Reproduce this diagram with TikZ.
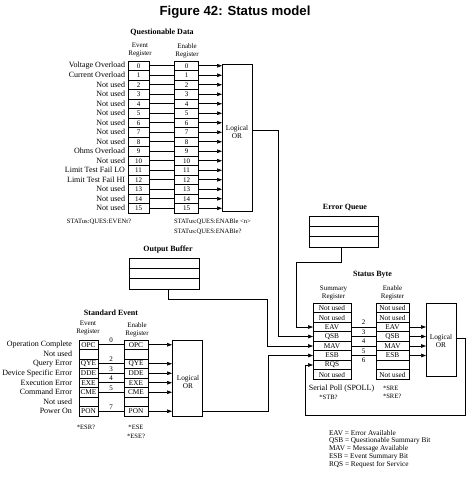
\documentclass[tikz,border=0pt]{standalone}
\usepackage{fontspec}
\setmainfont{Liberation Serif}
\newfontfamily\titlesans{Liberation Sans}
\usetikzlibrary{arrows.meta,calc}
\begin{document}
\begin{tikzpicture}[x=1pt,y=-1pt,
  every node/.style={inner sep=0pt,outer sep=0pt},
  cell/.style={draw,line width=0.7pt,minimum height=9.5pt,font=\fontsize{7.3}{8}\selectfont},
  qcell/.style={cell,font=\fontsize{7}{8}\selectfont},
  bufcell/.style={draw,line width=0.7pt,minimum height=10.33pt},
  orbox/.style={draw,line width=0.8pt},
  ortext/.style={align=center,font=\fontsize{7.3}{7.5}\selectfont},
  lbl/.style={anchor=east,font=\fontsize{8}{9}\selectfont},
  hdr/.style={font=\bfseries\fontsize{8}{9}\selectfont},
  sub/.style={align=center,font=\fontsize{7}{7.8}\selectfont},
  cmd/.style={font=\fontsize{6.6}{8}\selectfont},
  num/.style={font=\fontsize{7}{8}\selectfont},
  leg/.style={anchor=west,font=\fontsize{7.3}{8}\selectfont},
  conn/.style={line width=0.7pt},
  arr/.style={line width=0.7pt,-{Triangle[length=5pt,width=3.6pt]}}
]
\useasboundingbox (0,0) rectangle (474,479);
\fill[white] (0,0) rectangle (474,479);

% Title
\node[font=\titlesans\bfseries\fontsize{13.2}{15}\selectfont] (title) at (235,12) {Figure 42: Status model};

% ---------------- Questionable Data ----------------
\node[hdr] (qhdr) at (162,32) {Questionable Data};
\node[sub] (qevh) at (140,50) {Event\\Register};
\node[sub] (qenh) at (187,51) {Enable\\Register};
\foreach \i/\lab in {0/Voltage Overload,1/Current Overload,2/Not used,3/Not used,4/Not used,5/Not used,6/Not used,7/Not used,8/Not used,9/Ohms Overload,10/Not used,11/Limit Test Fail LO,12/Limit Test Fail HI,13/Not used,14/Not used,15/Not used}{
  \node[qcell,minimum width=21pt] (qe\i) at (138.5,{65.75+9.5*\i}) {\i};
  \node[qcell,minimum width=23.5pt] (qn\i) at (186.5,{65.75+9.5*\i}) {\i};
  \node[lbl] (ql\i) at ($(qe\i.west)+(-3,0)$) {\lab};
}
\node[orbox,minimum width=30pt,minimum height=147pt] (qor) at (237,137.5) {};
\node[ortext] (qort) at (237,132) {Logical\\OR};
\foreach \i in {0,...,15}{
  \draw[conn] (qe\i.east) -- (qn\i.west);
  \draw[arr] (qn\i.east) -- (qn\i.east -| qor.west);
}
\node[cmd] (qc1) at (99,222) {STATus:QUES:EVENt?};
\node[cmd,anchor=west] (qc2) at (174,222) {STATus:QUES:ENABle <n>};
\node[cmd,anchor=west] (qc3) at (174,232) {STATus:QUES:ENABle?};
\coordinate (qorout) at (qor.east |- 0,130);

% ---------------- Output Buffer ----------------
\node[hdr] (obh) at (168,250) {Output Buffer};
\node[bufcell,minimum width=70pt] (ob1) at (164,263.17) {};
\node[bufcell,minimum width=70pt] (ob2) at (164,273.5) {};
\node[bufcell,minimum width=70pt] (ob3) at (164,283.83) {};
\coordinate (obb) at (ob3.south -| 168,0);

% ---------------- Error Queue ----------------
\node[hdr] (eqh) at (345,207) {Error Queue};
\node[bufcell,minimum width=69pt] (eq1) at (343.5,221.17) {};
\node[bufcell,minimum width=69pt] (eq2) at (343.5,231.5) {};
\node[bufcell,minimum width=69pt] (eq3) at (343.5,241.83) {};
\coordinate (eqb) at (eq3.south -| 341,0);

% ---------------- Standard Event ----------------
\node[hdr] (seh) at (111,313) {Standard Event};
\node[sub] (sevh) at (88,328) {Event\\Register};
\node[sub] (senh) at (137,330) {Enable\\Register};
\foreach \i/\reg/\lab in {0/OPC/Operation Complete,1/{}/Not used,2/QYE/Query Error,3/DDE/Device Specific Error,4/EXE/Execution Error,5/CME/Command Error,6/{}/Not used,7/PON/Power On}{
  \node[cell,minimum width=19pt] (ee\i) at (88.5,{344.75+9.5*\i}) {\reg};
  \node[cell,minimum width=24pt] (en\i) at (136,{344.75+9.5*\i}) {\reg};
  \node[lbl] (el\i) at ($(ee\i.west)+(-7,0)$) {\lab};
}
\node[orbox,minimum width=30pt,minimum height=76pt] (eor) at (187,378) {};
\node[ortext] (eort) at (188,382) {Logical\\OR};
\foreach \i in {0,2,3,4,5,7}{
  \draw[conn] (ee\i.east) -- (en\i.west);
  \node[num] (enum\i) at ($(ee\i.east)!0.5!(en\i.west)+(0,-4.5)$) {\i};
  \draw[arr] (en\i.east) -- (en\i.east -| eor.west);
}
\node[cmd] (ec1) at (86,427) {*ESR?};
\node[cmd] (ec2) at (136,427) {*ESE};
\node[cmd] (ec3) at (136,436) {*ESE?};
\coordinate (eorout) at (eor.east |- en7.east);

% ---------------- Status Byte ----------------
\node[hdr] (sbh) at (372.5,275) {Status Byte};
\node[sub] (ssh) at (333.5,293) {Summary\\Register};
\node[sub] (snh) at (392.5,293) {Enable\\Register};
\foreach \i/\reg/\regb in {0/Not used/Not used,1/Not used/Not used,2/EAV/EAV,3/QSB/QSB,4/MAV/MAV,5/ESB/ESB,6/RQS/{},7/Not used/Not used}{
  \node[cell,minimum width=38pt] (ss\i) at (332,{308+9.5*\i}) {\reg};
  \node[cell,minimum width=33pt] (sn\i) at (392.5,{308+9.5*\i}) {\regb};
}
\node[orbox,minimum width=30pt,minimum height=73pt] (sor) at (441,339.5) {};
\node[ortext] (sort) at (441,341) {Logical\\OR};
\foreach \i in {2,3,4,5}{
  \draw[conn] (ss\i.east) -- (sn\i.west);
  \draw[arr] (sn\i.east) -- (sn\i.east -| sor.west);
}
\foreach \i in {2,...,6}{
  \node[num] (snum\i) at ($(ss\i.east)!0.5!(sn\i.west)+(0,-4.5)$) {\i};
}
\node[font=\fontsize{8}{9}\selectfont] (spoll) at (341.5,389) {Serial Poll (SPOLL)};
\node[cmd] (stb) at (328.5,397) {*STB?};
\node[cmd,anchor=west] (sre1) at (383,388) {*SRE};
\node[cmd,anchor=west] (sre2) at (383,396) {*SRE?};
\coordinate (sorout) at (sor.east |- 0,338);

% ---------------- Connectors into Status Byte ----------------
\draw[arr] (eqb) |- (296,262) |- (ss2.west);
\draw[arr] (qorout) -- (278,130) |- (ss3.west);
\draw[arr] (obb) |- (267,299) |- (ss4.west);
\draw[arr] (eorout) -- (268,411.25) |- (ss5.west);
\draw[arr] (sorout) -- (465,338) -- (465,415) -- (305,415) |- (ss6.west);

% ---------------- Legend ----------------
\node[leg] (l1) at (329,433) {EAV = Error Available};
\node[leg] (l2) at (329,441) {QSB = Questionable Summary Bit};
\node[leg] (l3) at (329,449) {MAV = Message Available};
\node[leg] (l4) at (329,457) {ESB = Event Summary Bit};
\node[leg] (l5) at (329,465) {RQS = Request for Service};
\end{tikzpicture}
\end{document}
